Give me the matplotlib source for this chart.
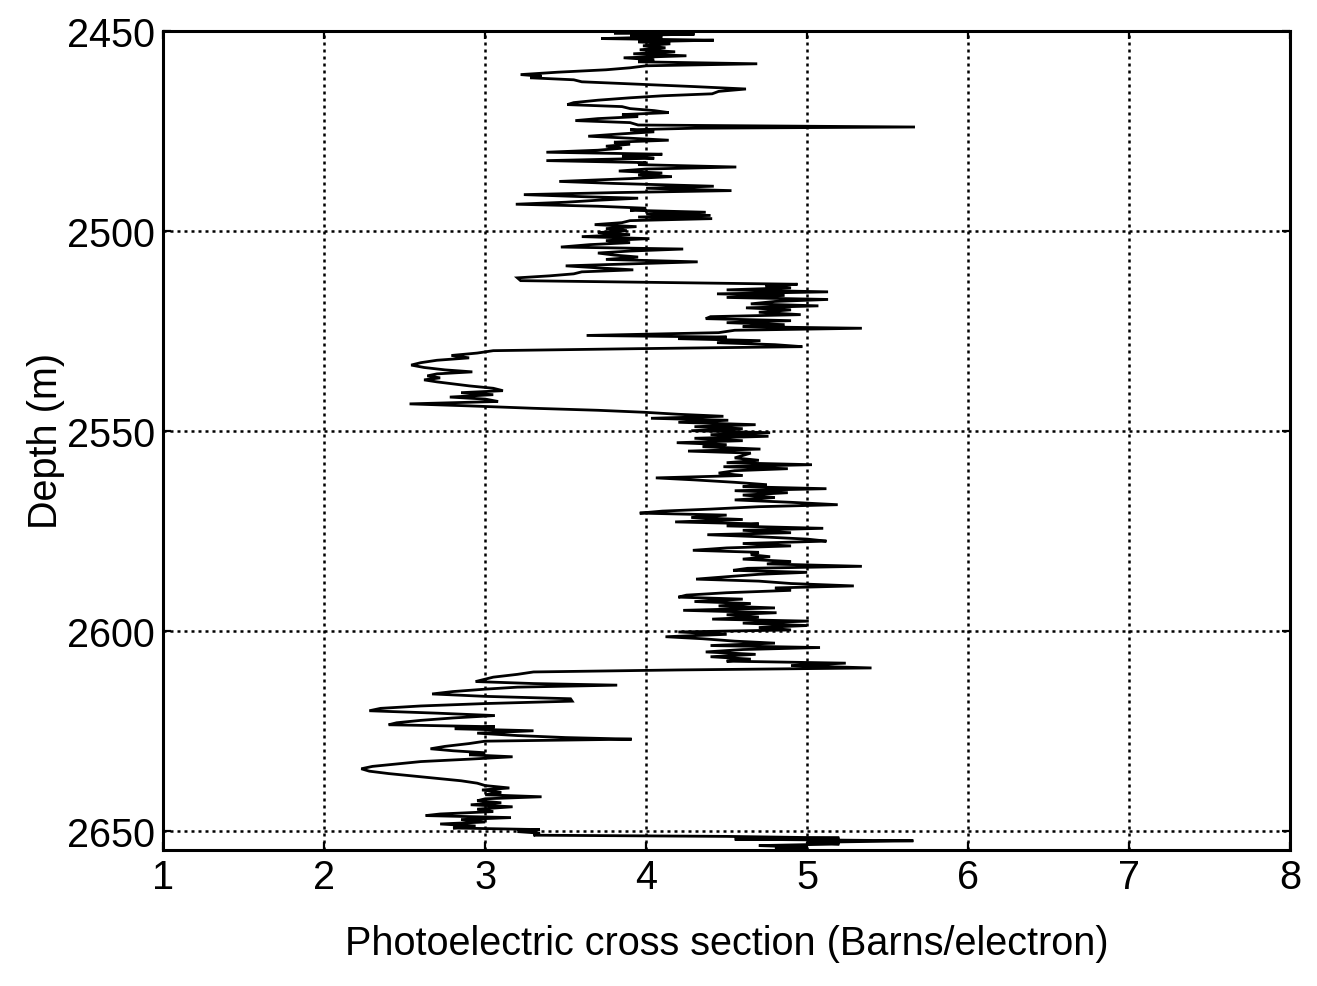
import matplotlib
matplotlib.use("Agg")
import matplotlib.pyplot as plt

depth = [
    2449.8, 2450.0, 2450.3, 2450.6, 2450.9, 2451.2, 2451.6, 2452.0, 2452.4, 2452.8,
    2453.3, 2453.8, 2454.3, 2454.8, 2455.3, 2455.8, 2456.3, 2456.8, 2457.3, 2457.8,
    2458.3, 2458.8, 2459.3, 2459.8, 2460.4, 2461.0, 2461.4, 2461.8, 2462.3, 2462.8,
    2463.4, 2464.0, 2464.6, 2465.2, 2465.8, 2466.3, 2466.8, 2467.4, 2468.0, 2468.5,
    2469.0, 2469.5, 2470.0, 2470.5, 2471.0, 2471.5, 2472.0, 2472.5, 2473.0, 2473.6,
    2474.1, 2474.4, 2474.8, 2475.3, 2475.8, 2476.4, 2476.9, 2477.4, 2477.9, 2478.4,
    2478.9, 2479.4, 2479.9, 2480.4, 2480.9, 2481.4, 2481.9,
    2482.5, 2483.0, 2483.5, 2484.1, 2484.6, 2485.1, 2485.6, 2486.1, 2486.5, 2487.0,
    2487.7, 2488.2, 2488.9, 2489.4, 2490.0, 2490.5, 2491.0, 2491.5, 2491.9, 2492.4,
    2492.9, 2493.4, 2493.9, 2494.4, 2494.9, 2495.4, 2495.8, 2496.2, 2496.6, 2497.0,
    2497.5, 2498.0, 2498.5, 2499.0, 2499.5, 2500.0, 2500.5, 2501.0, 2501.5, 2502.0,
    2502.5, 2503.0, 2503.5, 2504.1, 2504.6, 2505.1, 2505.6, 2506.1, 2506.6, 2507.2,
    2507.8, 2508.3, 2508.8, 2509.3, 2509.8, 2510.3, 2510.8, 2511.3, 2511.8, 2512.5,
    2513.4, 2513.8, 2514.3, 2514.8, 2515.3, 2515.8, 2516.2,
    2516.7, 2517.2, 2517.7, 2518.3, 2518.8, 2519.3, 2519.8, 2520.4, 2521.0, 2521.5,
    2522.0, 2522.5, 2523.0, 2523.5, 2524.0, 2524.4, 2524.9, 2525.5, 2526.2, 2526.6,
    2527.0, 2527.5, 2528.0, 2528.5, 2529.0, 2529.5, 2530.0, 2530.6, 2531.2, 2531.8,
    2532.4, 2533.0, 2533.6, 2534.2, 2534.8, 2535.3, 2535.8, 2536.3, 2536.8, 2537.3,
    2537.8, 2538.3, 2538.8, 2539.4, 2540.0, 2540.5, 2541.0, 2541.6, 2542.1, 2542.7,
    2543.3, 2543.8, 2544.4, 2544.9, 2545.4, 2545.9, 2546.4, 2546.9, 2547.4, 2547.9,
    2548.5, 2549.0, 2549.5,
    2550.0, 2550.5, 2551.0, 2551.4, 2551.9, 2552.5, 2553.0, 2553.5, 2554.0, 2554.6,
    2555.1, 2555.6, 2556.2, 2556.8, 2557.4, 2558.0, 2558.5, 2559.0, 2559.5, 2560.0,
    2560.6, 2561.2, 2561.8, 2562.3, 2562.9, 2563.5, 2564.0, 2564.5, 2565.0, 2565.5,
    2566.1, 2566.7, 2567.3, 2567.9, 2568.5, 2569.0, 2569.6, 2570.1, 2570.6, 2571.1,
    2571.7, 2572.2, 2572.8, 2573.3, 2573.8, 2574.4, 2574.9, 2575.5, 2576.0, 2576.5,
    2577.1, 2577.6, 2578.2, 2578.8, 2579.3, 2579.9, 2580.4, 2581.0, 2581.5, 2582.1,
    2582.7, 2583.3, 2583.9,
    2584.4, 2584.9, 2585.4, 2585.9, 2586.5, 2587.1, 2587.6, 2588.2, 2588.8, 2589.3,
    2589.9, 2590.5, 2591.1, 2591.6, 2592.1, 2592.7, 2593.2, 2593.8, 2594.3, 2594.9,
    2595.5, 2596.0, 2596.6, 2597.1, 2597.6, 2598.1, 2598.7, 2599.2, 2599.8, 2600.3,
    2600.9, 2601.5, 2602.0, 2602.6, 2603.1, 2603.7, 2604.2, 2604.7, 2605.3, 2605.9,
    2606.5, 2607.1, 2607.6, 2608.1, 2608.7, 2609.3, 2609.8, 2610.3, 2610.9, 2611.6,
    2612.2, 2612.7, 2613.2, 2613.6, 2614.1, 2614.6, 2615.2, 2615.8, 2616.4, 2617.0,
    2617.6,
    2618.2, 2618.8, 2619.4, 2620.0, 2620.6, 2621.2, 2621.8, 2622.4, 2623.0, 2623.5,
    2624.0, 2624.5, 2625.0, 2625.6, 2626.2, 2626.7, 2627.1, 2627.6, 2628.2, 2628.9,
    2629.5, 2630.0, 2630.5, 2631.0, 2631.5, 2632.1, 2632.7, 2633.3, 2633.9, 2634.5,
    2635.1, 2635.7, 2636.3, 2636.9, 2637.5, 2638.1, 2638.7, 2639.3, 2639.8, 2640.4,
    2641.0, 2641.5, 2642.0, 2642.5, 2643.0, 2643.5, 2644.0, 2644.6, 2645.2, 2645.8,
    2646.2, 2646.7, 2647.2, 2647.8, 2648.3, 2648.8, 2649.3, 2649.7, 2650.2, 2650.6,
    2651.1, 2651.4, 2651.8, 2652.1, 2652.5, 2652.9, 2653.3, 2653.7, 2654.1, 2654.5,
    2654.9,
]

pe = [
    4.00, 3.75, 4.25, 3.80, 4.30, 3.90, 4.10, 3.72, 4.42, 3.95,
    4.15, 3.98, 4.12, 3.96, 4.18, 3.92, 4.25, 3.86, 4.05, 3.95,
    4.69, 4.00, 3.90, 3.75, 3.45, 3.22, 3.35, 3.28, 3.55, 3.60,
    3.95, 4.30, 4.62, 4.45, 4.41, 4.10, 3.90, 3.70, 3.55, 3.51,
    3.85, 3.90, 4.05, 4.14, 3.85, 3.95, 3.70, 3.56, 3.90, 3.95,
    5.67, 4.30, 3.90, 4.05, 3.85, 3.64, 3.90, 4.14, 3.80, 3.90,
    3.75, 3.85, 3.70, 3.38, 4.10, 3.85, 4.05,
    3.38, 4.00, 3.95, 4.56, 4.00, 3.83, 4.10, 3.95, 4.16, 3.90,
    3.46, 3.80, 4.42, 4.00, 4.53, 3.80, 3.24, 3.60, 3.95, 3.70,
    3.50, 3.19, 3.70, 4.00, 3.90, 4.37, 4.00, 4.40, 3.95, 4.41,
    3.90, 3.85, 3.68, 3.94, 3.75, 3.88, 3.70, 3.90, 3.60, 4.02,
    3.75, 3.90, 3.65, 3.47, 4.23, 3.90, 3.70, 3.80, 3.95, 3.75,
    4.32, 3.90, 3.50, 3.70, 3.92, 3.60, 3.55, 3.40, 3.20, 3.22,
    4.94, 4.74, 4.90, 4.50, 5.13, 4.44, 4.86,
    4.50, 5.13, 4.80, 4.65, 5.07, 4.62, 4.90, 4.70, 4.96, 4.40,
    4.37, 4.90, 4.50, 4.86, 4.60, 5.34, 4.55, 4.45, 3.63, 4.50,
    4.20, 4.71, 4.44, 4.80, 4.97, 3.95, 3.05, 2.95, 2.79, 2.90,
    2.70, 2.60, 2.54, 2.62, 2.75, 2.92, 2.70, 2.64, 2.72, 2.62,
    2.70, 2.80, 2.90, 3.05, 3.11, 2.85, 3.05, 2.78, 3.00, 3.08,
    2.53, 2.90, 3.30, 3.70, 3.99, 4.20, 4.48, 4.03, 4.51, 4.20,
    4.68, 4.30, 4.60,
    4.28, 4.77, 4.40, 4.76, 4.30, 4.60, 4.19, 4.50, 4.35, 4.71,
    4.26, 4.65, 4.60, 4.55, 4.70, 4.50, 5.03, 4.48, 4.88, 4.55,
    4.45, 4.60, 4.06, 4.30, 4.55, 4.75, 4.60, 5.12, 4.55, 4.88,
    4.60, 4.80, 4.55, 4.90, 5.19, 4.70, 4.40, 4.10, 3.96, 4.50,
    4.28, 4.60, 4.18, 4.70, 4.50, 5.10, 4.60, 4.90, 4.38, 4.70,
    5.00, 5.12, 4.60, 4.90, 4.50, 4.29, 4.70, 4.65, 4.77, 4.60,
    4.90, 4.75, 5.34,
    4.63, 4.54, 5.00, 4.70, 4.50, 4.31, 4.70, 4.90, 5.29, 4.80,
    4.90, 4.50, 4.25, 4.20, 4.60, 4.30, 4.65, 4.45, 4.80, 4.23,
    4.81, 4.50, 4.70, 4.41, 5.01, 4.60, 5.00, 4.70, 4.90, 4.20,
    4.50, 4.12, 4.35, 4.55, 4.80, 4.40, 5.08, 4.60, 4.37, 4.68,
    4.40, 4.65, 4.50, 5.24, 4.90, 5.40, 4.20, 3.30, 3.20, 3.05,
    2.99, 2.94, 3.30, 3.82, 3.20, 3.00, 2.80, 2.67, 3.00, 3.53,
    3.54,
    3.00, 2.60, 2.35, 2.28, 2.70, 3.06, 2.80, 2.60, 2.45, 2.40,
    3.06, 2.81, 3.30, 2.95, 3.20, 3.50, 3.91, 3.00, 2.90, 2.75,
    2.66, 2.80, 3.00, 2.90, 3.17, 2.90, 2.60, 2.45, 2.30, 2.23,
    2.28, 2.40, 2.55, 2.70, 2.85, 2.95, 3.00, 3.15, 2.98, 3.10,
    3.00, 3.35, 3.00, 2.95, 3.10, 2.91, 3.17, 2.95, 3.05, 2.72,
    2.63, 3.16, 2.85, 3.00, 2.72, 2.94, 2.80, 3.34, 3.20, 3.34,
    3.30, 4.50, 5.20, 4.55, 5.66, 5.00, 5.20, 4.70, 5.00, 4.80,
    4.90,
]

x_ticks = [1, 2, 3, 4, 5, 6, 7, 8]
y_ticks = [2450, 2500, 2550, 2600, 2650]

plt.rcParams['font.family'] = ['Liberation Sans', 'DejaVu Sans']

fig = plt.figure(figsize=(13.17, 9.87), dpi=100)
ax = fig.add_axes([0.124, 0.138, 0.8555, 0.830])

ax.plot(pe, depth, color='black', linewidth=2.0, solid_joinstyle='miter')

ax.set_xlim(1, 8)
ax.set_ylim(2654.75, 2450)
ax.set_xticks(x_ticks)
ax.set_yticks(y_ticks)
ax.set_xticklabels([str(v) for v in x_ticks])
ax.set_yticklabels([str(v) for v in y_ticks])

ax.grid(True, color='black', linestyle=(0, (1.2, 1.6)), linewidth=1.8)
ax.set_axisbelow(False)

for s in ax.spines.values():
    s.set_linewidth(2.2)
    s.set_color('black')

ax.tick_params(direction='in', length=6, width=1.6, top=True, right=True,
               labelsize=28.5, pad=6, colors='black')

ax.set_xlabel('Photoelectric cross section (Barns/electron)', fontsize=28.5, labelpad=20)
ax.set_ylabel('Depth (m)', fontsize=28.5, labelpad=1)

fig.savefig('out.png', dpi=100, facecolor='white')
